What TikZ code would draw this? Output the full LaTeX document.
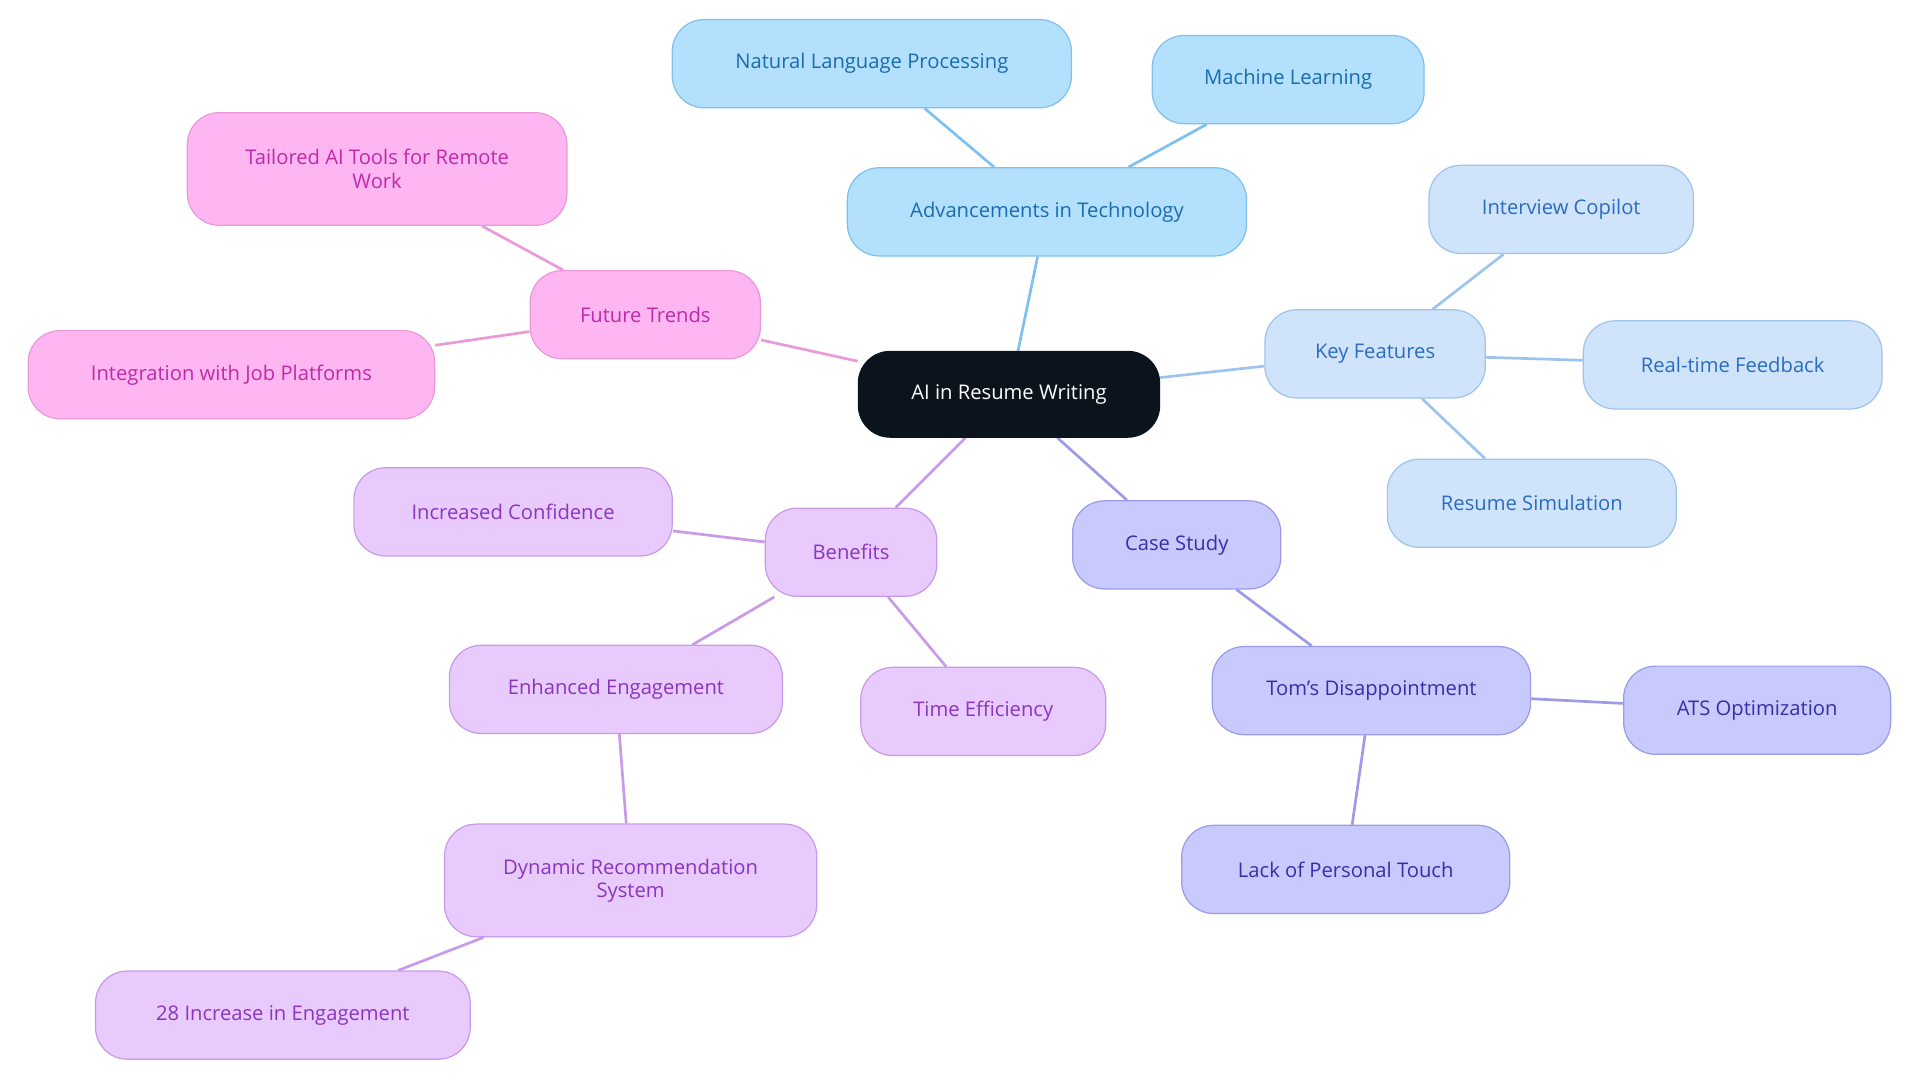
\documentclass[tikz,border=0pt]{standalone}
\usepackage{fontspec}
\setmainfont{Open Sans}
\usetikzlibrary{backgrounds}
\definecolor{cC}{HTML}{0B141C}
\definecolor{tF}{HTML}{B3E0FD}\definecolor{tD}{HTML}{7EC0EF}\definecolor{tT}{HTML}{1A6BB0}
\definecolor{kF}{HTML}{CFE3FB}\definecolor{kD}{HTML}{9EC3EC}\definecolor{kT}{HTML}{2A6CC0}
\definecolor{sF}{HTML}{C8C9FD}\definecolor{sD}{HTML}{9B9BE8}\definecolor{sT}{HTML}{3530A8}
\definecolor{bF}{HTML}{E8CBFC}\definecolor{bD}{HTML}{C99AE8}\definecolor{bT}{HTML}{8A34C0}
\definecolor{fF}{HTML}{FDB6F2}\definecolor{fD}{HTML}{E99AD9}\definecolor{fT}{HTML}{C02AA8}
\tikzset{
 box/.style={rounded corners=26pt,minimum height=72pt,align=center,font=\fontsize{16.5}{19}\selectfont,line width=1pt,inner sep=0pt},
 tech/.style={box,fill=tF,draw=tD,text=tT},
 key/.style={box,fill=kF,draw=kD,text=kT},
 cas/.style={box,fill=sF,draw=sD,text=sT},
 ben/.style={box,fill=bF,draw=bD,text=bT},
 fut/.style={box,fill=fF,draw=fD,text=fT},
 e/.style={line width=2.2pt}
}
\begin{document}
\begin{tikzpicture}[x=1pt,y=-1pt]
\useasboundingbox (0,0) rectangle (1568,884);
\node[box,fill=cC,draw=cC,text=white,minimum width=246pt,minimum height=70pt] (c) at (824,322) {AI in Resume Writing};
\node[tech,minimum width=326pt] (adv) at (855,173) {Advancements in Technology};
\node[tech,minimum width=326pt] (nlp) at (712,52) {Natural Language Processing};
\node[tech,minimum width=222pt] (ml) at (1052,65) {Machine Learning};
\node[key,minimum width=180pt] (kf) at (1123,289) {Key Features};
\node[key,minimum width=216pt] (ic) at (1275,171) {Interview Copilot};
\node[key,minimum width=244pt] (rf) at (1415,298) {Real-time Feedback};
\node[key,minimum width=236pt] (rs) at (1251,411) {Resume Simulation};
\node[cas,minimum width=170pt] (cs) at (961,445) {Case Study};
\node[cas,minimum width=260pt] (tom) at (1120,564) {Tom's Disappointment};
\node[cas,minimum width=218pt] (ats) at (1435,580) {ATS Optimization};
\node[cas,minimum width=268pt] (lack) at (1099,710) {Lack of Personal Touch};
\node[ben,minimum width=140pt] (ben) at (695,451) {Benefits};
\node[ben,minimum width=260pt] (inc) at (419,418) {Increased Confidence};
\node[ben,minimum width=272pt] (enh) at (503,563) {Enhanced Engagement};
\node[ben,minimum width=200pt] (te) at (803,581) {Time Efficiency};
\node[ben,minimum width=304pt,minimum height=92pt] (dyn) at (515,719) {Dynamic Recommendation\\System};
\node[ben,minimum width=306pt] (inc28) at (231,829) {28 Increase in Engagement};
\node[fut,minimum width=188pt] (ft) at (527,257) {Future Trends};
\node[fut,minimum width=310pt,minimum height=92pt] (tai) at (308,138) {Tailored AI Tools for Remote\\Work};
\node[fut,minimum width=332pt] (int) at (189,306) {Integration with Job Platforms};
\begin{scope}[on background layer]
\draw[e,tD] (c)--(adv) (adv)--(nlp) (adv)--(ml);
\draw[e,kD] (c)--(kf) (kf)--(ic) (kf)--(rf) (kf)--(rs);
\draw[e,sD] (c)--(cs) (cs)--(tom) (tom)--(ats) (tom)--(lack);
\draw[e,bD] (c)--(ben) (ben)--(inc) (ben)--(enh) (ben)--(te) (enh)--(dyn) (dyn)--(inc28);
\draw[e,fD] (c)--(ft) (ft)--(tai) (ft)--(int);
\end{scope}
\end{tikzpicture}
\end{document}
